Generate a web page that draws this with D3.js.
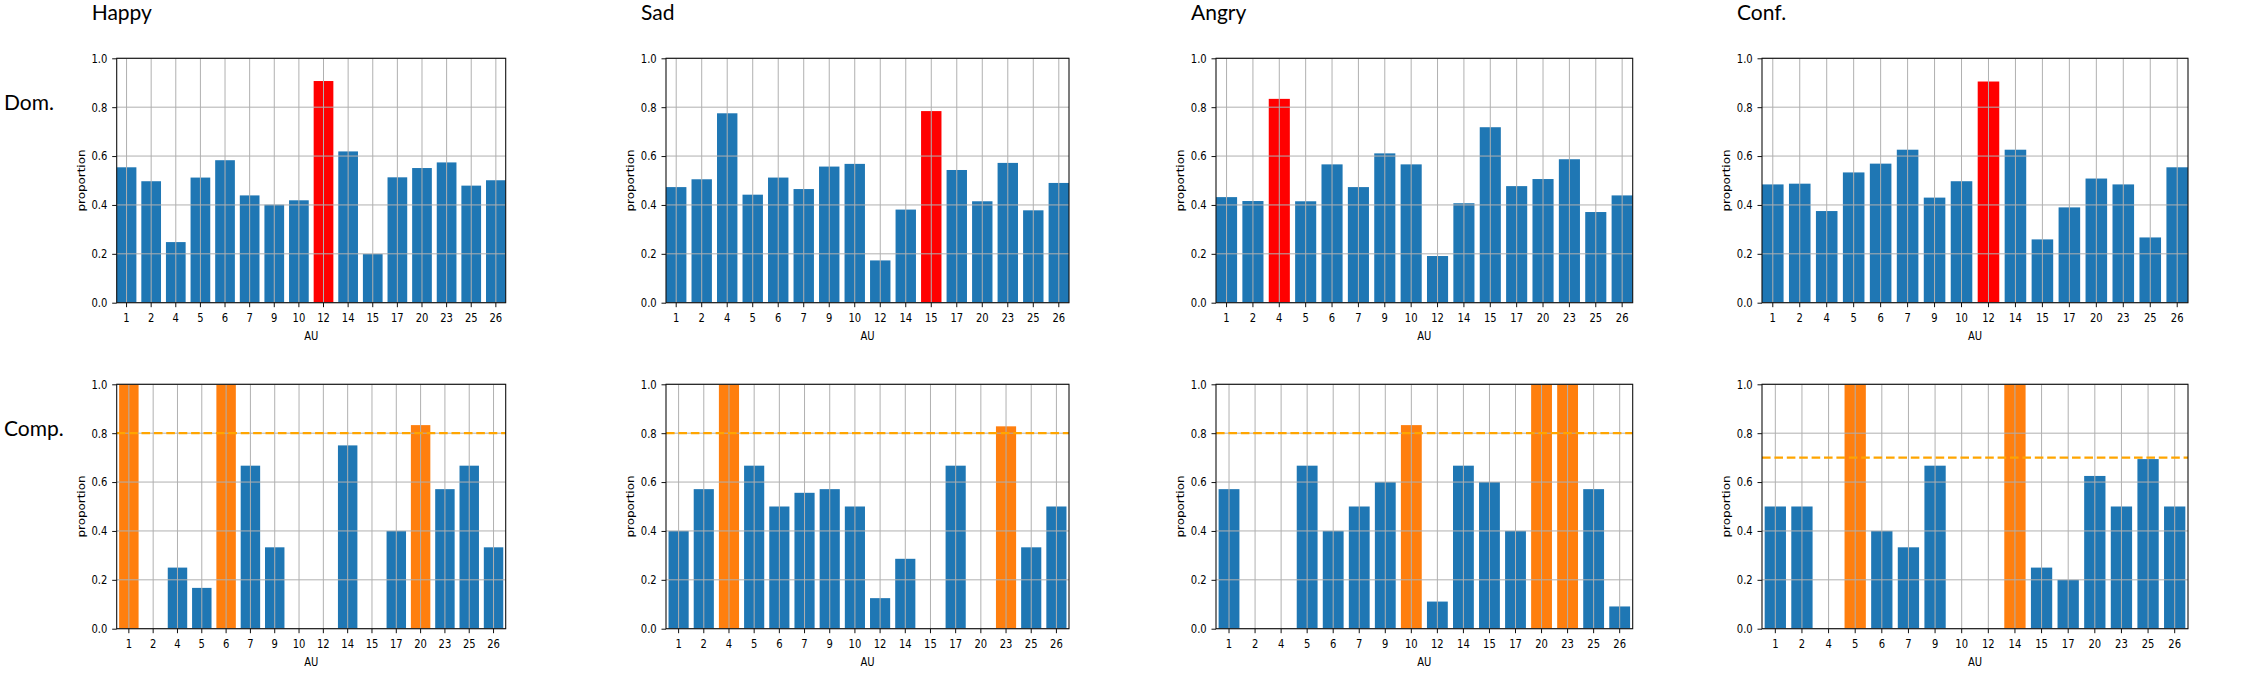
<!DOCTYPE html>
<html>
<head>
<meta charset="utf-8">
<script src="https://cdn.jsdelivr.net/npm/d3@7"></script>
<style>
  html, body { margin: 0; padding: 0; background: #fff; }
  svg { display: block; }
</style>
</head>
<body>
<svg id="chart" width="2248" height="689"></svg>
<script>
// ---------------- DATA ----------------
const AUs = ["1","2","4","5","6","7","9","10","12","14","15","17","20","23","25","26"];
const emotions = ["Happy", "Sad", "Angry", "Conf."];
const rowLabels = ["Dom.", "Comp."];
const yTicks = [0, 0.2, 0.4, 0.6, 0.8, 1.0];

// Dominance proportions per AU
const domHappy = [0.554, 0.497, 0.248, 0.512, 0.583, 0.439, 0.401, 0.419, 0.907, 0.619, 0.199, 0.513, 0.551, 0.574, 0.479, 0.501];
const domSad   = [0.473, 0.505, 0.775, 0.442, 0.512, 0.465, 0.557, 0.568, 0.173, 0.381, 0.784, 0.543, 0.415, 0.572, 0.378, 0.490];
const domAngry = [0.432, 0.416, 0.834, 0.415, 0.566, 0.473, 0.611, 0.566, 0.191, 0.407, 0.718, 0.477, 0.506, 0.587, 0.371, 0.439];
const domConf  = [0.484, 0.487, 0.375, 0.533, 0.569, 0.626, 0.430, 0.497, 0.905, 0.626, 0.259, 0.390, 0.508, 0.484, 0.267, 0.554];

// Compound proportions per AU
const compHappy = [1.0, 0, 0.25, 0.167, 1.0, 0.667, 0.333, 0, 0, 0.75, 0, 0.4, 0.833, 0.571, 0.667, 0.333];
const compSad   = [0.4, 0.571, 1.0, 0.667, 0.5, 0.556, 0.571, 0.5, 0.125, 0.286, 0, 0.667, 0, 0.828, 0.333, 0.5];
const compAngry = [0.571, 0, 0, 0.667, 0.4, 0.5, 0.6, 0.833, 0.111, 0.667, 0.6, 0.4, 1.0, 1.0, 0.571, 0.091];
const compConf  = [0.5, 0.5, 0, 1.0, 0.4, 0.333, 0.667, 0, 0, 1.0, 0.25, 0.2, 0.625, 0.5, 0.694, 0.5];

const compThresholds = [0.8, 0.8, 0.8, 0.7];

const domSeries = [domHappy, domSad, domAngry, domConf];
const compSeries = [compHappy, compSad, compAngry, compConf];

// ---------------- LAYOUT ----------------
const colLeft  = [116.7, 666, 1216, 1762];
const colRight = [505.7, 1069, 1632.7, 2188];
const rowTop    = [58.3, 384.3];
const rowBottom = [302.7, 628.7];
const rowOuterPad = [0, 0.1];

const BLUE = "#1f77b4", RED = "#ff0000", ORANGE = "#ff7f0e", LINE_ORANGE = "#ffa500";
const GRID = "#b0b0b0";
const TICKFONT = "'DejaVu Sans', sans-serif";
const TITLEFONT = "Lato, 'Open Sans', sans-serif";

const svg = d3.select("#chart");

// Column titles
emotions.forEach((e, c) => {
  svg.append("text")
    .attr("x", colLeft[c] - 25)
    .attr("y", 19.5)
    .attr("font-family", TITLEFONT)
    .attr("font-size", 21)
    .attr("fill", "#000")
    .text(e);
});

// Row labels
const rowLabelY = [110, 436];
rowLabels.forEach((r, i) => {
  svg.append("text")
    .attr("x", 4)
    .attr("y", rowLabelY[i])
    .attr("font-family", TITLEFONT)
    .attr("font-size", 21)
    .attr("fill", "#000")
    .text(r);
});

function drawPanel(row, col, values, threshold) {
  const left = colLeft[col], right = colRight[col];
  const top = rowTop[row], bottom = rowBottom[row];

  const x = d3.scaleBand()
    .domain(AUs)
    .range([left, right])
    .paddingInner(0.2)
    .paddingOuter(rowOuterPad[row]);
  const y = d3.scaleLinear().domain([0, 1]).range([bottom, top]);

  const g = svg.append("g");

  let colorOf;
  if (row === 0) {
    const maxV = d3.max(values);
    colorOf = v => (v === maxV ? RED : BLUE);
  } else {
    colorOf = v => (v >= threshold ? ORANGE : BLUE);
  }

  g.append("g").selectAll("rect")
    .data(values.map((v, i) => ({ au: AUs[i], v })))
    .join("rect")
    .attr("x", d => x(d.au))
    .attr("width", x.bandwidth())
    .attr("y", d => y(d.v))
    .attr("height", d => y(0) - y(d.v))
    .attr("fill", d => colorOf(d.v));

  const grid = g.append("g").attr("stroke", GRID).attr("stroke-width", 1);
  grid.selectAll("line.gx")
    .data(AUs)
    .join("line")
    .attr("class", "gx")
    .attr("x1", d => x(d) + x.bandwidth() / 2)
    .attr("x2", d => x(d) + x.bandwidth() / 2)
    .attr("y1", top)
    .attr("y2", bottom);
  grid.selectAll("line.gy")
    .data(yTicks)
    .join("line")
    .attr("class", "gy")
    .attr("x1", left)
    .attr("x2", right)
    .attr("y1", d => y(d))
    .attr("y2", d => y(d));

  if (threshold != null) {
    g.append("line")
      .attr("x1", left)
      .attr("x2", right)
      .attr("y1", y(threshold))
      .attr("y2", y(threshold))
      .attr("stroke", LINE_ORANGE)
      .attr("stroke-width", 2.3)
      .attr("stroke-dasharray", "8.6,3.8");
  }

  g.append("rect")
    .attr("x", left)
    .attr("y", top)
    .attr("width", right - left)
    .attr("height", bottom - top)
    .attr("fill", "none")
    .attr("stroke", "#111")
    .attr("stroke-width", 1.1);

  const xAxis = g.append("g")
    .attr("transform", `translate(0,${bottom})`)
    .call(d3.axisBottom(x).tickSize(4.5).tickPadding(4.3).tickSizeOuter(0));
  xAxis.select(".domain").remove();
  xAxis.selectAll(".tick line").attr("stroke", "#111").attr("stroke-width", 1);
  xAxis.selectAll(".tick text")
    .attr("font-family", TICKFONT)
    .attr("font-size", 10)
    .attr("fill", "#000")
    .attr("transform", "scale(1,1.2)");

  const yAxis = g.append("g")
    .attr("transform", `translate(${left},0)`)
    .call(d3.axisLeft(y).tickValues(yTicks).tickFormat(d3.format(".1f")).tickSize(4.5).tickPadding(4.8).tickSizeOuter(0));
  yAxis.select(".domain").remove();
  yAxis.selectAll(".tick line").attr("stroke", "#111").attr("stroke-width", 1);
  yAxis.selectAll(".tick text")
    .attr("font-family", TICKFONT)
    .attr("font-size", 10)
    .attr("fill", "#000")
    .attr("transform", "scale(1,1.2)");

  g.append("text")
    .attr("transform", `translate(${(left + right) / 2},${bottom + 33}) scale(1,1.2)`)
    .attr("text-anchor", "middle")
    .attr("dominant-baseline", "central")
    .attr("font-family", TICKFONT)
    .attr("font-size", 10)
    .attr("fill", "#000")
    .text("AU");

  g.append("text")
    .attr("transform", `translate(${left - 35},${(top + bottom) / 2}) rotate(-90) scale(1.19,1)`)
    .attr("text-anchor", "middle")
    .attr("dominant-baseline", "central")
    .attr("font-family", TICKFONT)
    .attr("font-size", 10)
    .attr("fill", "#000")
    .text("proportion");
}

emotions.forEach((e, c) => {
  drawPanel(0, c, domSeries[c], null);
  drawPanel(1, c, compSeries[c], compThresholds[c]);
});
</script>
</body>
</html>
